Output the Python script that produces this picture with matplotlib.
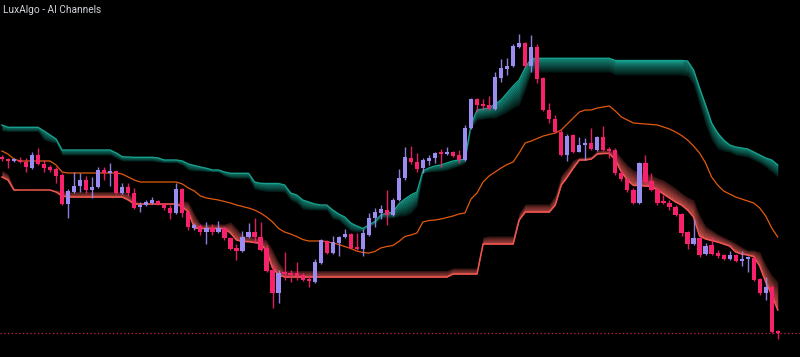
import numpy as np
import matplotlib
matplotlib.use("Agg")
import matplotlib.pyplot as plt

# ---------------- data (price units) ----------------
opens = [203,201,199,200.5,198,192,205,196,193,191, 185,156,168,174,180,170,173,190,187,189,
         167,173,167,153,155,157,159,156,152,147, 171,148,132,134,128,132,128,132,122,112,
         109,123,128,123,112,90,67,88,87,87, 85,81,78,97,119,107,117,123,126,113,
         111,125,142,147.5,150,145,160,182,202,198, 192,199,202,208,206,208,205,200,232,261,
         256,255,251,282,291,294,313,317,294,313, 282,250,241,228,205,225,208,215,217,210,
         223,211,210,187,181,170,157,197,179,171, 158,157,153,146,128,116,122,106,115,107,
         105,101,105,99,101,102,81,67,73,29]
highs = [205,202,202.5,203,202,208,212,200,195,193, 187,171,188,187,184,183,193,193,197,190,
         177,177,172,158,160,163,160,157,155,177, 172,150,137,136,138,136,139,133,123,116,
         129,137,142,138,115,95,90,108,90,98, 87,85,101,121,120,124,124,131,127,127,
         131,147,152,155,170,162,191,213,214,207, 202,205,208,211,213,209,210,235,262,262,
         261,264,288,301,302,316,326,318,325,316, 283,257,245,230,226,226,223,222,232,224,
         234,213,212,190,182,172,198,205,187,172, 165,160,155,147,129,141,123,117,123,110,
         106,109,106,109,104,103,82,83,75,30]
lows = [199,192,198,197,188,191.5,195,188,188,177, 155,142,167,168,167,162,172,180,174,166,
        166,164,151,148,154,156,155,150,141,146, 143,130,130,125,116,125,127,120,110,100,
        108,122,117,109,88,52,57,80,78,80, 79,73,77,96,106,106,104,122,111,110,
        104,124,133,141,135,144,159,180,196,188, 187,195,197,193,205,203,197,199,231,248,
        250,250,250,278,285,293,312,293,288,277, 249,237,227,204,199,207,208,200,210,209,
        209,202,185,179,168,156,156,176,169,155, 156,150,144,124,111,115,103,105,105,102,
        100,100,98,94,88,79,65,60,27,21]
closes = [201,199,201,198,193,205,196,192,190,184, 156,169,174,180,170,173,190,187,189,167,
          173,167,152,155,158,160,156,152,147,171, 147,133,135,128,132,128,132,122,111,109,
          123,128,123,110,89,67,87,86,85,84, 80,79,98,120,107,118,123,126,112,111,
          127,142,148,151,145,160,182,203,198,191, 200,202,207,206,208,204,200,232,261,255,
          254,251,283,292,294,314,317,294,313,281, 250,241,228,205,224,208,215,217,211,223,
          210,209,187,181,170,157,197,178,170,157, 157,153,145,127,116,122,105,114,106,104,
          101,105,99,101,103,80,67,73,28,27]

mid_line = [209,206,201,199,199,199,199,199,199,195, 188,187,187,187,187,187,187,187,187,187,
            186,183,180,178,178,178,178,178,178,178, 176,172,169,164,162,161,160,158.5,157,155,
            153.5,152,150,147,143,138,131.5,128,126,123.5, 120.5,119,119,119,118.5,117,115.5,113.5,111.5,109,
            107.5,107,108.5,112,113.5,114.5,118.5,123.5,125,127, 138,139.5,140,141,142.5,144,146,147,161,167,
            178,184,188,192,195.5,198,207,217,219,221.5, 224,225.5,227,230,236,242,248,250,250,252,
            253,254,249,243,240,237,236.5,236,235.5,235, 233,231,228,224.5,220,214,207,197,183,175,
            169,166,163,161,159,157,152,144,132,123]

upper_edge = ([235] + [232.7]*6 + [229,225,221] + [210]*9 + [207,203.3,203] + [202.7]*4 + [202]
              + [200]*3 + [199,196,194.5,193,191.7,190,190,188,186.7] + [186.7]*3 + [178,176.7]
              + [176.5]*3
              + [175,167,165,160,158,156,155,155,150,146, 143,137,134,131.5,135,138.5,145,147,148,156,
                 161,165,168,189,192,194,195,197,199,200, 201,235,250,251,252,256,260,267,274,280,
                 292,301.5]
              + [301.7]*13 + [299.5]*12
              + [299,290,272,255,237,227,220,215,213,212,211,208,205,202,200,195])
upper_inner = ([229] + [228.5]*6 + [220,218,217] + [205]*9 + [202,199,199] + [199]*4 + [198]
               + [197.3]*3 + [195,190,189,189,188.5,188,188,184,182] + [181.7]*3 + [171,169.5]
               + [168.5]*3
               + [168,160,157,151,150,150,150,150,141,140, 134,129,128,129,133,136,142,142,142,144,
                  144,147,154,187,188,188.5,189,190,192,194, 197,232,240,241,242,242,245,248,252,255,
                  270,288]
               + [288]*13 + [285]*12
               + [284,275,255,235,220,211,209,208,205,204,203,200,197,193,188,183])
lower_edge = ([183,180,170] + [170]*6 + [168,164] + [163]*10 + [160,156] + [156]*7 + [153,148,132]
              + [131.5]*5 + [127,120,118.5,118.3,117.5,116.5,109,92,85] + [83]*28 + [86]*5
              + [116]*6 + [140] + [148]*5
              + [155,175,183,192,200,200,201,206,206.5,206.5, 200,188,180,174.5,174.5,174,173.5,170,166,162,
                 158,155,150,143,124,121,119.5,118,116,114, 108,106,105,103.5,94,78,65,50])
lower_inner = ([190,186,172] + [170]*6 + [170,169] + [168.5]*10 + [167,160] + [157]*7 + [160,158,146]
               + [136]*5 + [138,132,125,124,123,122,120,110,98] + [89.5]*28 + [92]*5
               + [123] + [124]*5 + [147] + [156]*5
               + [165,185,192,200,203,203,204,210,210,210, 210,202,195,190,188,187,185,182,180,176,
                  172,167,163,160,145,134,130,126,123,120, 117,113,110,110,108,95,85,78])
last_price = 27.3
title = "LuxAlgo - AI Channels"

# ---------------- drawing ----------------
o = np.array(opens, float); h = np.array(highs, float)
l = np.array(lows, float); c = np.array(closes, float)
x = np.arange(len(o))

BG = "#000000"
BULL = "#9b8cf2"
BEAR = "#f7226b"
TEAL = "#17a08d"
SALMON = "#f0605a"
ORANGE = "#e25a0c"

fig = plt.figure(figsize=(8.0, 3.57), dpi=100, facecolor=BG)
ax = fig.add_axes([0, 0, 1, 1])
ax.set_facecolor(BG)
ax.set_xlim(-0.32, 132.7)
ax.set_ylim(3, 360)
ax.axis("off")


def gradient_band(edge, inner, color, a0, a1, n=14, z=1):
    e = np.asarray(edge, float)
    i = np.asarray(inner, float)
    for k in range(n):
        lo = e + (i - e) * k / n
        hi = e + (i - e) * (k + 1) / n
        alpha = a0 + (a1 - a0) * k / (n - 1)
        ax.fill_between(x, lo, hi, color=color, alpha=alpha, lw=0, zorder=z)


gradient_band(upper_edge, upper_inner, TEAL, 0.95, 0.15, z=1)
ax.plot(x, upper_edge, color=TEAL, lw=1.0, zorder=1.5)
gradient_band(lower_edge, lower_inner, SALMON, 0.95, 0.2, z=1)
ax.plot(x, lower_edge, color="#f2574f", lw=1.1, zorder=1.5)

ax.plot(x, mid_line, color=ORANGE, lw=0.9, zorder=2)

ax.axhline(last_price, color="#c8234a", lw=0.9, ls=(0, (1, 2)), zorder=2)

up = c >= o
cols = np.where(up, BULL, BEAR)
ax.vlines(x, l, h, colors=cols, lw=1.0, zorder=3, alpha=0.9)
body_lo = np.minimum(o, c)
body_h = np.maximum(np.abs(c - o), 1.6)
ax.bar(x, body_h, bottom=body_lo, width=0.7, color=cols, lw=0, zorder=4)

ax.text(0.004, 0.985, title, transform=ax.transAxes, color="#d1d4dc",
        fontsize=7.3, family="Roboto", va="top", ha="left", zorder=5)

fig.savefig("out.png", dpi=100, facecolor=BG)
